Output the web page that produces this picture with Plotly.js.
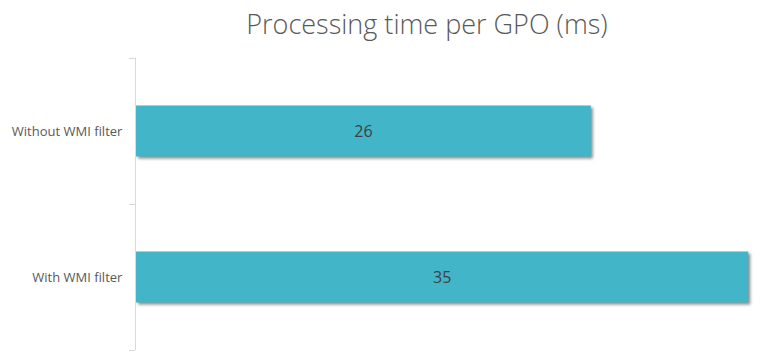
<!DOCTYPE html>
<html>
<head>
<meta charset="utf-8">
<script src="https://cdn.plot.ly/plotly-3.0.1.min.js"></script>
<style>
html,body{margin:0;padding:0;background:#fff;}
#chart{width:768px;height:355px;}
.trace.bars .point path{filter:drop-shadow(2px 2px 1.5px rgba(0,0,0,0.45));}
</style>
</head>
<body>
<div id="chart"></div>
<script>
const categories = ["With WMI filter", "Without WMI filter"];
const values = [35, 26];
const valueLabels = ["35", "26"];
const chartTitle = "Processing time per GPO (ms)";

const trace = {
  type: "bar",
  orientation: "h",
  y: categories,
  x: values,
  text: valueLabels,
  textposition: "inside",
  insidetextanchor: "middle",
  textfont: {family: "Open Sans, sans-serif", size: 16, color: "#404040"},
  marker: {color: "#42B5C8"},
  width: 0.35,
  hoverinfo: "none"
};

const layout = {
  width: 768,
  height: 355,
  margin: {l: 136, r: 11, t: 58, b: 5},
  paper_bgcolor: "#fff",
  plot_bgcolor: "#fff",
  showlegend: false,
  title: {
    text: chartTitle,
    x: 0.556, xanchor: "center",
    y: 0.93, yanchor: "middle",
    font: {family: "Open Sans, sans-serif", size: 27, color: "#595959", weight: 300}
  },
  xaxis: {
    range: [0, 35.5],
    visible: false,
    showgrid: false,
    zeroline: false
  },
  yaxis: {
    type: "category",
    showline: true,
    linecolor: "#d9d9d9",
    linewidth: 1,
    ticks: "outside",
    tickson: "boundaries",
    ticklen: 6,
    tickcolor: "#d9d9d9",
    showgrid: false,
    ticklabelstandoff: 10,
    tickfont: {family: "Open Sans, sans-serif", size: 13, color: "#595959"}
  }
};

Plotly.newPlot("chart", [trace], layout, {displayModeBar: false, staticPlot: true});
</script>
</body>
</html>
